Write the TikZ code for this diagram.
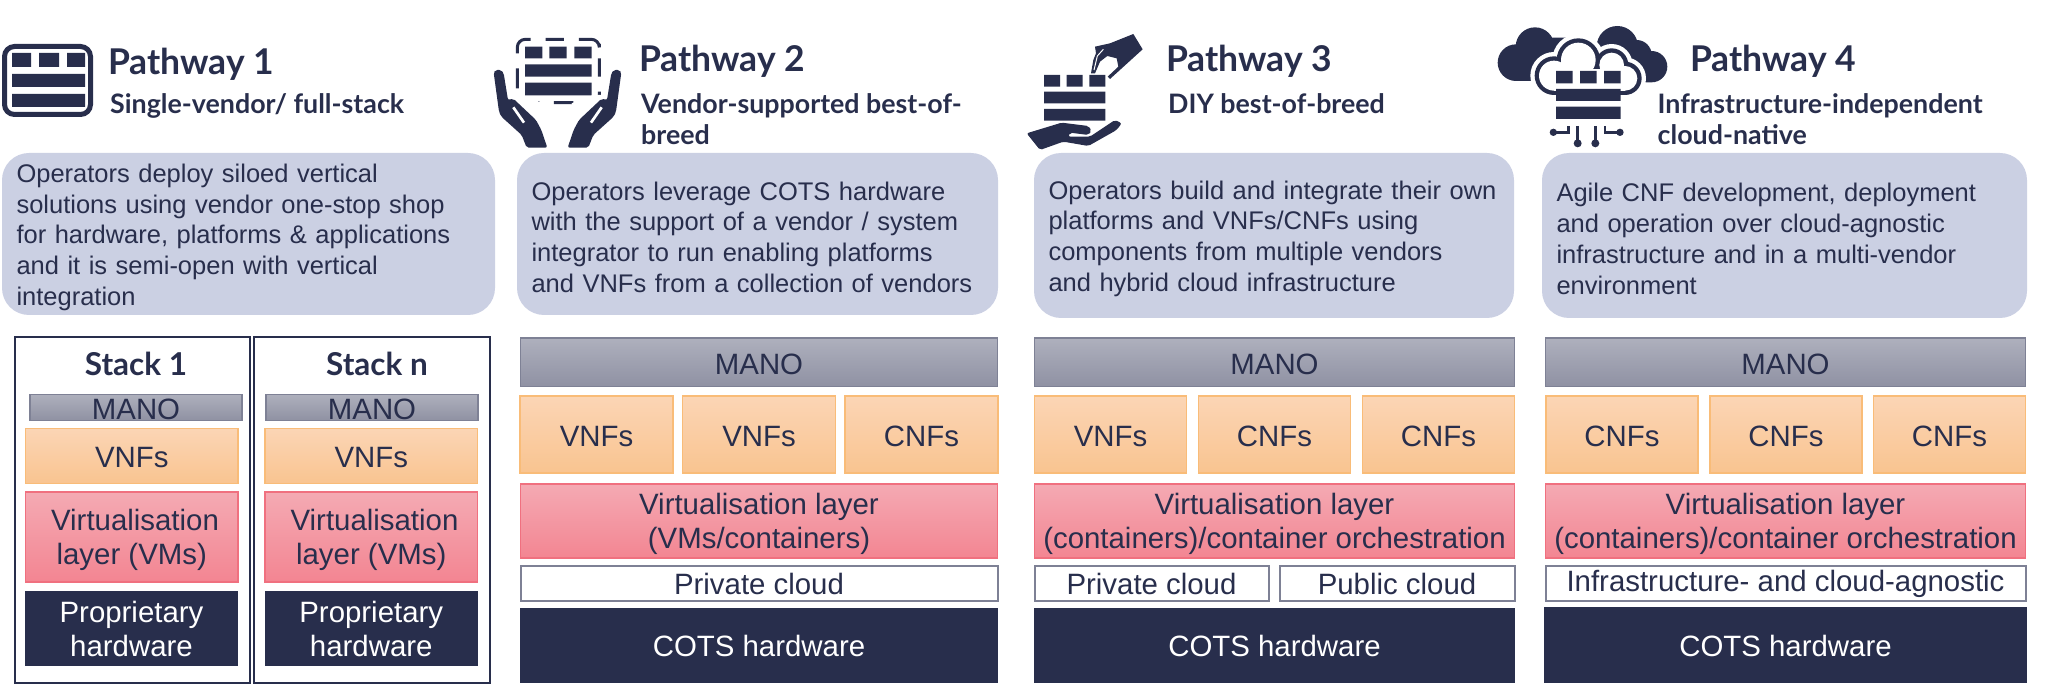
\documentclass[tikz,border=0pt]{standalone}
\usepackage{fontspec}
\setmainfont{Liberation Sans}
\newfontfamily\headfont{Lato}
\usetikzlibrary{positioning}

\definecolor{ink}{HTML}{282E4C}
\definecolor{calloutfill}{HTML}{CBD0E3}
\definecolor{manotop}{HTML}{AEB0BD}
\definecolor{manobot}{HTML}{8F91A3}
\definecolor{manoline}{HTML}{7E8195}
\definecolor{vnftop}{HTML}{FBD5B5}
\definecolor{vnfbot}{HTML}{F9C490}
\definecolor{vnfline}{HTML}{F9BC78}
\definecolor{virttop}{HTML}{F4AAB3}
\definecolor{virtbot}{HTML}{F38592}
\definecolor{virtline}{HTML}{F0707F}
\newcommand{\virtstrut}{\rule{0pt}{27pt}}

\begin{document}
\begin{tikzpicture}[x=1pt, y=-1pt,
    title/.style={anchor=base west, inner sep=0pt, text=ink, font=\headfont\bfseries\fontsize{35.5}{40}\selectfont},
    subtitle/.style={anchor=north west, inner sep=0pt, align=left, text=ink, font=\headfont\bfseries\fontsize{26.8}{31}\selectfont},
    callout/.style={fill=calloutfill, rounded corners=27pt, inner xsep=14.5pt, inner ysep=0pt, align=left, text=ink, font=\fontsize{25.5}{30.8}\selectfont, execute at begin node={\rule{0pt}{25pt}}},
    layer/.style={outer sep=0pt, inner sep=0pt, align=center, text=ink, line width=1.5pt, font=\fontsize{29.4}{34}\selectfont},
    mano/.style={layer, draw=manoline, top color=manotop, bottom color=manobot, execute at begin node={\rule{0pt}{24pt}}},
    vnf/.style={layer, draw=vnfline, top color=vnftop, bottom color=vnfbot, execute at begin node={\rule{0pt}{24pt}}},
    virt/.style={layer, draw=virtline, top color=virttop, bottom color=virtbot},
    cloud/.style={layer, draw=manoline, fill=white, line width=2pt},
    hw/.style={layer, draw=ink, fill=ink, text=white, execute at begin node={\rule{0pt}{23pt}}},
    frame/.style={draw=ink, line width=2pt, outer sep=0pt, inner sep=0pt},
    stacktitle/.style={inner sep=0pt, text=ink, font=\headfont\bfseries\fontsize{31.5}{38}\selectfont}]

    \useasboundingbox (0,0) rectangle (2048,684);

    % Headings
    \node[title] (title1) at (108,74.5) {Pathway 1};
    \node[title] (title2) at (639,71.5) {Pathway 2};
    \node[title] (title3) at (1166,71.5) {Pathway 3};
    \node[title] (title4) at (1690,71.5) {Pathway 4};
    \node[subtitle] (sub1) at (110,93) {Single-vendor/ full-stack};
    \node[subtitle] (sub2) at (641,93) {Vendor-supported best-of-\\breed};
    \node[subtitle] (sub3) at (1168,93) {DIY best-of-breed};
    \node[subtitle] (sub4) at (1657.5,93) {Infrastructure-independent\\cloud-native};

    % Descriptions
    \node[callout, text width=464pt, minimum height=162pt] (desc1) at (248.5,234) {Operators deploy siloed vertical\\solutions using vendor one-stop shop\\for hardware, platforms \& applications\\and it is semi-open with vertical\\integration};
    \node[callout, text width=452pt, minimum height=162pt] (desc2) at (757.5,234) {Operators leverage COTS hardware\\with the support of a vendor / system\\integrator to run enabling platforms\\and VNFs from a collection of vendors};
    \node[callout, text width=451pt, minimum height=165pt] (desc3) at (1274,235.5) {Operators build and integrate their own\\platforms and VNFs/CNFs using\\components from multiple vendors\\and hybrid cloud infrastructure};
    \node[callout, text width=456pt, minimum height=165pt] (desc4) at (1784.5,235.5) {Agile CNF development, deployment\\and operation over cloud-agnostic\\infrastructure and in a multi-vendor\\environment};

    % Pathway 1
    \node[frame, minimum width=235.5, minimum height=346] (frame1) at (132.25,510) {};
    \node[frame, minimum width=236.5, minimum height=346] (framen) at (371.75,510) {};
    \node[stacktitle] (stack1) at (136,364) {Stack 1};
    \node[stacktitle] (stackn) at (377,364) {Stack n};
    \node[mano, minimum width=212, minimum height=26] (mano1a) at (136,407.5) {MANO};
    \node[mano, minimum width=212, minimum height=26] (mano1b) at (372,407.5) {MANO};
    \node[vnf, minimum width=212.5, minimum height=55] (vnf1a) at (131.75,456) {VNFs};
    \node[vnf, minimum width=212.5, minimum height=55] (vnf1b) at (371.25,456) {VNFs};
    \node[virt, minimum width=212.5, minimum height=90] (virt1a) at (131.75,537) {\virtstrut\hspace*{6.5pt}Virtualisation\\layer (VMs)};
    \node[virt, minimum width=212.5, minimum height=90] (virt1b) at (371.25,537) {\virtstrut\hspace*{6.5pt}Virtualisation\\layer (VMs)};
    \node[hw, minimum width=212, minimum height=73] (hw1a) at (131.5,628.5) {Proprietary\\hardware};
    \node[hw, minimum width=212, minimum height=73] (hw1b) at (371.25,628.5) {Proprietary\\hardware};

    % Pathway 2
    \node[mano, minimum width=477, minimum height=48.5] (mano2) at (759,362.5) {MANO};
    \node[vnf, minimum width=153, minimum height=77] (vnf2a) at (596.5,434.5) {VNFs};
    \node[vnf, minimum width=153, minimum height=77] (vnf2b) at (759,434.5) {VNFs};
    \node[vnf, minimum width=153, minimum height=77] (vnf2c) at (921.5,434.5) {CNFs};
    \node[virt, minimum width=477, minimum height=74] (virt2) at (759,521) {\virtstrut Virtualisation layer\\(VMs/containers)};
    \node[cloud, minimum width=477, minimum height=35] (cloud2) at (759,583.5) {Private cloud};
    \node[hw, minimum width=477, minimum height=73.5] (hw2) at (759,645) {COTS hardware};

    % Pathway 3
    \node[mano, minimum width=480, minimum height=48.5] (mano3) at (1274.5,362.5) {MANO};
    \node[vnf, minimum width=152, minimum height=77] (vnf3a) at (1110.5,434.5) {VNFs};
    \node[vnf, minimum width=152, minimum height=77] (vnf3b) at (1274.5,434.5) {CNFs};
    \node[vnf, minimum width=152, minimum height=77] (vnf3c) at (1438.5,434.5) {CNFs};
    \node[virt, minimum width=480, minimum height=74] (virt3) at (1274.5,521) {\virtstrut Virtualisation layer\\(containers)/container orchestration};
    \node[cloud, minimum width=234, minimum height=35] (cloud3a) at (1151.5,583.5) {Private cloud};
    \node[cloud, minimum width=235, minimum height=35] (cloud3b) at (1397,583.5) {Public cloud};
    \node[hw, minimum width=480, minimum height=73.5] (hw3) at (1274.5,645) {COTS hardware};

    % Pathway 4
    \node[mano, minimum width=480, minimum height=48.5] (mano4) at (1785.5,362.5) {MANO};
    \node[vnf, minimum width=152, minimum height=77] (vnf4a) at (1622,434.5) {CNFs};
    \node[vnf, minimum width=152, minimum height=77] (vnf4b) at (1786,434.5) {CNFs};
    \node[vnf, minimum width=152, minimum height=77] (vnf4c) at (1949.5,434.5) {CNFs};
    \node[virt, minimum width=480, minimum height=74] (virt4) at (1785.5,521) {\virtstrut Virtualisation layer\\(containers)/container orchestration};
    \node[cloud, minimum width=480, minimum height=35] (cloud4) at (1785.5,583.5) {Infrastructure- and cloud-agnostic};
    \node[hw, minimum width=482, minimum height=74] (hw4) at (1785.5,645) {COTS hardware};

    % Icon 1: rack in a rounded frame
    \draw[ink, line width=5pt, rounded corners=10pt] (4.5,46.5) rectangle (90.5,114.5);
    \fill[ink] (12,53) rectangle (31,67) (39,53) rectangle (59,67) (67,53) rectangle (85,67);
    \fill[ink] (12,74) rectangle (85,87) (12,94) rectangle (85,107);

    % Icon 2: rack held by two hands
    \begin{scope}[shift={(480,20)}, x=0.3333pt, y=-0.3333pt]
        \draw[ink, line width=3pt, rounded corners=8pt] (112,100) -- (112,58) -- (152,58) (197,58) -- (252,58) (297,58) -- (358,58) -- (358,72) (358,115) -- (358,170) (358,215) -- (358,248) -- (325,248) (280,248) -- (222,248) (178,248) -- (125,248) (112,145) -- (112,205);
        \fill[ink] (135,80) rectangle (187,115) (208,80) rectangle (260,115) (283,80) rectangle (335,115);
        \fill[ink] (135,133) rectangle (335,170) (135,188) rectangle (335,226);
        \foreach \flip/\off in {1/0, -1/465} {
            \begin{scope}[xshift=\off*0.3333pt, xscale=\flip]
                \fill[white] (78,225) -- (175,290) -- (190,250) -- (125,225) -- cycle;
                \fill[ink, rounded corners=2pt] (41,158) -- (46,150) -- (64,150) -- (71,160) -- (84,240) -- (100,236) -- (168,300) -- (184,330) -- (202,383) -- (140,383) -- (125,345) -- (64,290) -- (57,275) -- cycle;
                \draw[white, line width=2.7pt] (100,262) -- (132,308);
            \end{scope}
        }
    \end{scope}

    % Icon 3: rack between two hands
    \begin{scope}[shift={(1020,20)}, x=0.3333pt, y=-0.3333pt]
        \fill[ink] (72,165) rectangle (120,200) (140,165) rectangle (188,200) (208,165) rectangle (256,200);
        \fill[ink] (72,215) rectangle (256,250) (72,267) rectangle (256,302);
        \fill[ink] (340,42) -- (368,88) -- (270,177) -- (263,170) -- (295,140) -- (290,115) -- (262,108) -- (240,125) -- (225,160) -- (213,160) -- (220,120) -- (228,100) -- (225,80) -- (270,70) -- cycle;
        \draw[white, line width=1pt] (222,150) -- (232,108) -- (250,88);
        \fill[ink, rounded corners=2pt] (20,340) -- (125,308) -- (205,318) -- (215,332) -- (205,345) -- (150,338) -- (145,350) -- (210,350) -- (285,300) -- (305,310) -- (290,330) -- (205,378) -- (130,365) -- (60,390) -- cycle;
    \end{scope}

    % Icon 4: clouds over a rack
    \begin{scope}[shift={(1490,15)}, x=0.3333pt, y=-0.3333pt]
        \fill[ink] (135,95) circle [radius=58*0.3333pt] (78,143) circle [radius=55*0.3333pt] (78,100) rectangle (230,198) (150,68) rectangle (228,100);
        \fill[ink] (382,95) circle [radius=62*0.3333pt] (485,155) circle [radius=47*0.3333pt] (440,120) circle [radius=45*0.3333pt] (330,110) rectangle (485,202);
        \foreach \d/\col in {13/white, 0/ink, -13/white} {
            \fill[\col] (265,135) circle [radius={(65+\d)*0.3333pt}] (365,150) circle [radius={(50+\d)*0.3333pt}] (405,190) circle [radius={(50+\d)*0.3333pt}] (192,182) circle [radius={(58+\d)*0.3333pt}];
            \fill[\col] (192,{150-\d}) rectangle (405,{240+\d});
        }
        \fill[ink] (198,168) rectangle (248,205) (270,168) rectangle (320,205) (342,168) rectangle (392,205);
        \fill[white] (185,208) rectangle (405,222);
        \fill[ink] (198,222) rectangle (392,258) (198,275) rectangle (392,312);
        \draw[ink, line width=2.7pt] (190,352) -- (235,352) -- (235,333);
        \draw[ink, line width=2.7pt] (263,333) -- (263,385);
        \draw[ink, line width=2.7pt] (316,333) -- (316,385);
        \draw[ink, line width=2.7pt] (345,333) -- (345,352) -- (390,352);
        \fill[ink] (190,352) circle [radius=11*0.3333pt] (263,385) circle [radius=12*0.3333pt] (316,385) circle [radius=12*0.3333pt] (390,352) circle [radius=11*0.3333pt];
    \end{scope}

\end{tikzpicture}
\end{document}
